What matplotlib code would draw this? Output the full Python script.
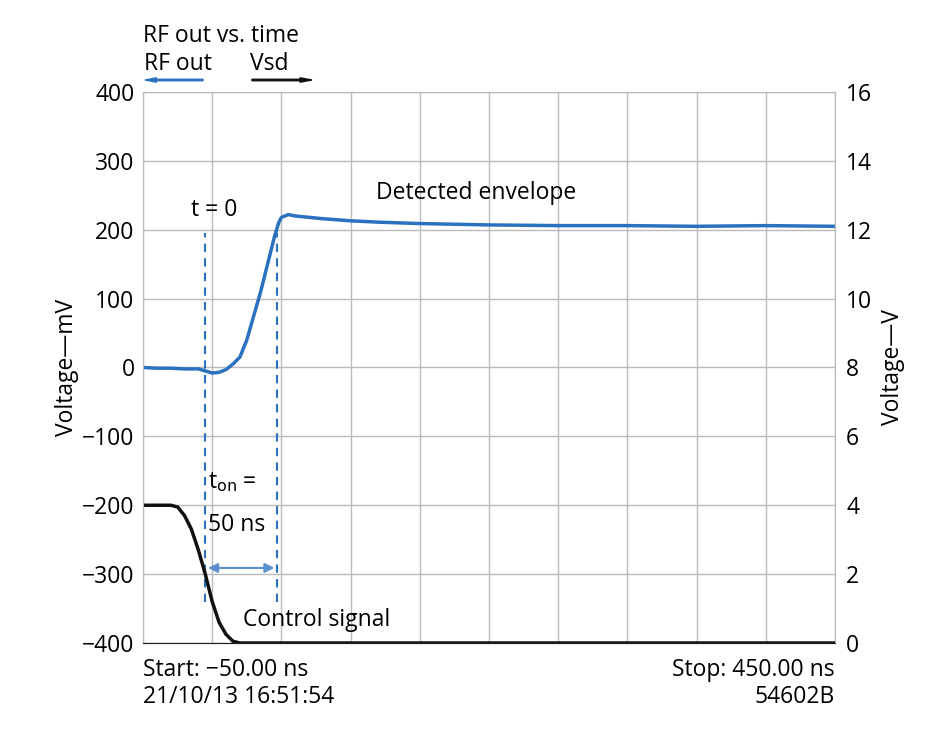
import matplotlib.pyplot as plt

plt.rcParams["font.family"] = ["Open Sans", "DejaVu Sans"]

W, H = 950, 739
FS = 16.5

# RF out (mV) vs time (ns)
t_rf = [-50, -40, -30, -20, -10, -5, 0, 5, 10, 15, 20, 25, 30, 35, 40, 45, 48, 50, 55,
        60, 70, 80, 100, 120, 150, 200, 250, 300, 350, 400, 450]
v_rf = [0, -1, -1, -2, -2, -5, -8, -7, -3, 5, 15, 40, 75, 110, 150, 190, 210, 218, 222,
        220, 218, 216, 213, 211, 209, 207, 206, 206, 205, 206, 205]

# Control signal Vsd (V) vs time (ns)
t_ctl = [-50, -30, -25, -20, -15, -10, -5, 0, 5, 10, 15, 20, 450]
v_ctl = [4, 4, 3.95, 3.7, 3.3, 2.7, 2.0, 1.2, 0.6, 0.25, 0.05, 0, 0]

t_on_start, t_on_end = -5, 47
xticks = list(range(-50, 451, 50))
yticks_l = list(range(-400, 401, 100))
yticks_r = list(range(0, 17, 2))

fig = plt.figure(figsize=(W / 100, H / 100), dpi=100)
ax = fig.add_axes([143 / W, 1 - 643 / H, (835 - 143) / W, (643 - 92) / H])
ax2 = ax.twinx()

ax.plot(t_rf, v_rf, color="#2a72c0", lw=2.5)
ax2.plot(t_ctl, v_ctl, color="#111111", lw=2.5)

ax.set_xlim(-50, 450)
ax.set_ylim(-400, 400)
ax2.set_ylim(0, 16)
ax.set_xticks(xticks)
ax.set_yticks(yticks_l)
ax2.set_yticks(yticks_r)
ax.set_yticklabels([str(v).replace("-", "\u2212") for v in yticks_l])
ax.tick_params(axis="x", length=0, labelbottom=False)
ax.tick_params(axis="y", length=0, labelsize=FS, pad=6)
ax2.tick_params(axis="y", length=0, labelsize=FS, pad=8)
ax.grid(True, color="#bbbbbb", lw=1)
for a in (ax, ax2):
    a.spines["top"].set_color("#bbbbbb")
    a.spines["right"].set_color("#bbbbbb")
    a.spines["left"].set_color("#bbbbbb")
    a.spines["bottom"].set_color("#222222")

ax.set_ylabel("Voltage\u2014mV", fontsize=FS, labelpad=2)
ax2.set_ylabel("Voltage\u2014V", fontsize=FS, labelpad=6)

# dashed markers
for tx in (t_on_start, t_on_end):
    ax.plot([tx, tx], [-340, 195], color="#2a72c0", lw=1.5, ls=(0, (4, 3)))
ax.annotate("", xy=(t_on_end, -291), xytext=(t_on_start, -291),
            arrowprops=dict(arrowstyle="<|-|>", color="#5b8fd0", lw=1.5, mutation_scale=14))

ax.text(-15, 220, "t = 0", fontsize=FS)
ax.text(118, 245, "Detected envelope", fontsize=FS)
ax.text(-3, -175, r"t$_{\mathrm{on}}$ =", fontsize=FS)
ax.text(-3, -238, "50 ns", fontsize=FS)
ax.text(22, -375, "Control signal", fontsize=FS)

# header
fig.text(143 / W, 1 - 36 / H, "RF out vs. time", fontsize=FS, va="center")
fig.text(144 / W, 1 - 64 / H, "RF out", fontsize=FS, va="center")
fig.text(250 / W, 1 - 64 / H, "Vsd", fontsize=FS, va="center")
fig.patches.append(plt.Arrow(203 / W, 1 - 80 / H, -58 / W, 0, width=0.01,
                             color="#2a72c0", transform=fig.transFigure, figure=fig))
fig.patches.append(plt.Arrow(252 / W, 1 - 80 / H, 60 / W, 0, width=0.01,
                             color="#111111", transform=fig.transFigure, figure=fig))

# footer
fig.text(143 / W, 1 - 670 / H, "Start: \u221250.00 ns", fontsize=FS, va="center")
fig.text(143 / W, 1 - 697 / H, "21/10/13 16:51:54", fontsize=FS, va="center")
fig.text(835 / W, 1 - 670 / H, "Stop: 450.00 ns", fontsize=FS, va="center", ha="right")
fig.text(835 / W, 1 - 697 / H, "54602B", fontsize=FS, va="center", ha="right")

fig.savefig("out.png", dpi=100)
